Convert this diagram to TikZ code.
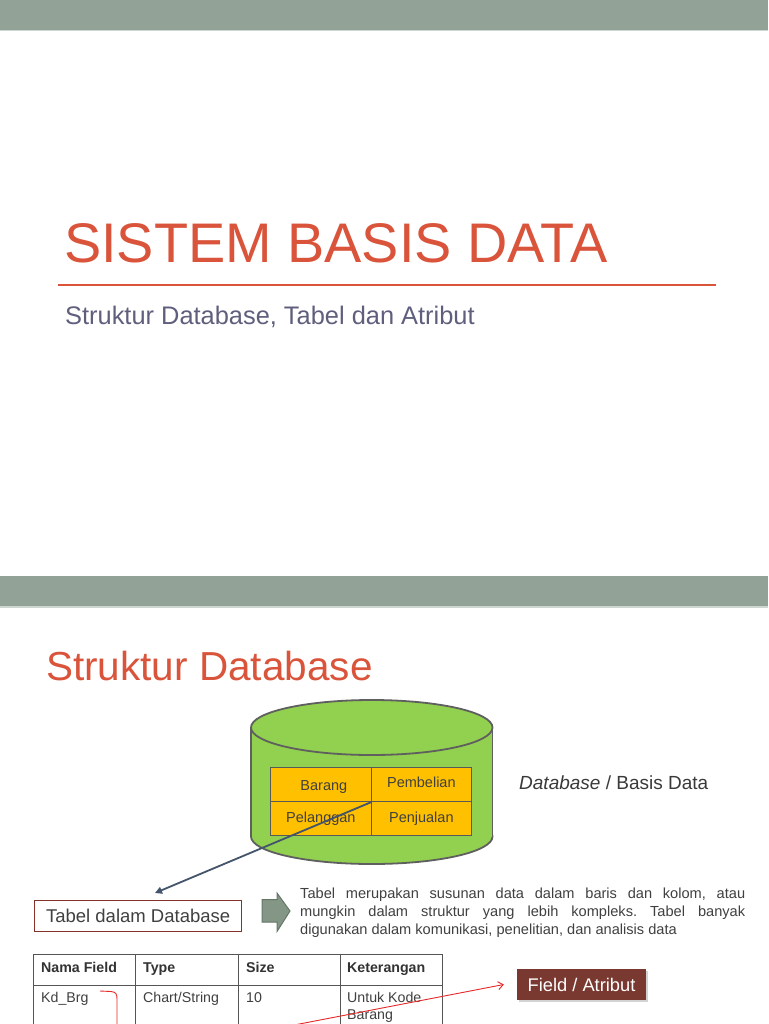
\documentclass[tikz,border=0pt]{standalone}
\usepackage{fontspec}
\setmainfont{Liberation Sans}
\usetikzlibrary{shadows,arrows.meta}
\definecolor{band}{RGB}{146,162,151}
\definecolor{bandline}{RGB}{205,214,208}
\definecolor{titlered}{RGB}{217,84,58}
\definecolor{subgray}{RGB}{95,95,125}
\definecolor{cylgreen}{RGB}{146,208,80}
\definecolor{cylborder}{RGB}{95,95,95}
\definecolor{taborange}{RGB}{255,192,0}
\definecolor{tabborder}{RGB}{89,89,89}
\definecolor{darkarrow}{RGB}{68,84,106}
\definecolor{textgray}{RGB}{64,64,64}
\definecolor{boxborder}{RGB}{135,50,40}
\definecolor{blockfill}{RGB}{132,150,134}
\definecolor{blockborder}{RGB}{100,118,102}
\definecolor{fieldfill}{RGB}{121,57,48}
\definecolor{redline}{RGB}{230,40,40}
\definecolor{gridgray}{RGB}{85,85,85}
\tikzset{
  fsz/.style={font=\fontsize{#1}{#1}\selectfont},
  txt/.style={inner sep=0pt, text=textgray},
  tcell/.style={draw=tabborder, line width=1.2pt, fill=taborange, inner sep=0pt,
    text height=10.5pt, text depth=3pt,
    minimum width=100.5pt, minimum height=34pt, text=textgray, fsz=14.5},
  gcell/.style={draw=gridgray, line width=1.2pt, inner sep=0pt, anchor=north west},
  cyl/.style={draw=cylborder, line width=1.8pt, fill=cylgreen},
}
\begin{document}
\frenchspacing
\begin{tikzpicture}[x=1pt,y=-1pt]
\clip (0,0) rectangle (768,1024);
\fill[white] (0,0) rectangle (768,1024);
% bands
\fill[band] (0,0) rectangle (768,30);
\fill[bandline] (0,30) rectangle (768,31.5);
\fill[band] (0,576) rectangle (768,606);
\fill[bandline] (0,606) rectangle (768,607.5);
% title slide
\node[inner sep=0pt, anchor=base west, text=titlered, fsz=55.8] (title) at (64,262) {SISTEM BASIS DATA};
\draw[titlered, line width=1.3pt] (58,285) -- (716,285);
\node[inner sep=0pt, anchor=base west, text=subgray, fsz=25.4] (subtitle) at (65,324) {Struktur Database, Tabel dan Atribut};
% second slide
\node[inner sep=0pt, anchor=base west, text=titlered, fsz=40.5] (heading) at (46,680) {Struktur Database};
% cylinder
\filldraw[cyl] (371.75,836.5) ellipse[x radius=120.75, y radius=27.5];
\fill[cylgreen] (251,727.5) rectangle (492.5,836.5);
\draw[cylborder, line width=1.8pt] (251,727.5) -- (251,836.5);
\draw[cylborder, line width=1.8pt] (492.5,727.5) -- (492.5,836.5);
\filldraw[cyl] (371.75,727.5) ellipse[x radius=120.75, y radius=27.5];
\coordinate (cylinder) at (371.75,780);
% tables inside
\node[tcell, anchor=north west] (barang) at (270,766.7) {\hspace*{6pt}\raisebox{-2.5pt}[0pt][0pt]{Barang}};
\node[tcell, anchor=north west] (pembelian) at (370.5,766.7) {\raisebox{1pt}[0pt][0pt]{Pembelian}};
\node[tcell, anchor=north west] (pelanggan) at (270,800.7) {Pelanggan};
\node[tcell, anchor=north west] (penjualan) at (370.5,800.7) {Penjualan};
\node[txt, anchor=base west, text=textgray!90!black, fsz=19] (dblabel) at (519,789) {\textit{Database} / Basis Data};
% table label box
\node[draw=boxborder, line width=1.3pt, minimum width=207pt, minimum height=31pt, inner sep=0pt,
  anchor=north west, text=textgray, fsz=18.5] (tabelbox) at (34,900) {Tabel dalam Database};
\draw[darkarrow, line width=1.8pt, -{Triangle[length=7pt,width=7pt]}] (barang.south east) -- (155,893);
% block arrow
\filldraw[fill=blockfill, draw=blockborder, line width=1pt] (262,899.5) -- (277,899.5) -- (277,893) -- (290,911) -- (277,931.5) -- (277,922) -- (262,922) -- cycle;
\coordinate (blockarrow) at (276,911);
\node[txt, anchor=north west, text width=445pt, align=justify, font=\fontsize{14.6}{18.3}\selectfont] (para) at (300,887.3)
 {Tabel merupakan susunan data dalam baris dan kolom, atau\linebreak mungkin dalam struktur yang lebih kompleks. Tabel banyak\linebreak digunakan dalam komunikasi, penelitian, dan analisis data};
% attribute table
\node[gcell, minimum width=102pt, minimum height=31pt] (h1) at (33,954) {};
\node[gcell, minimum width=103pt, minimum height=31pt] (h2) at (135,954) {};
\node[gcell, minimum width=102pt, minimum height=31pt] (h3) at (238,954) {};
\node[gcell, minimum width=102pt, minimum height=31pt] (h4) at (340,954) {};
\node[gcell, minimum width=102pt, minimum height=60pt] (r1) at (33,985) {};
\node[gcell, minimum width=103pt, minimum height=60pt] (r2) at (135,985) {};
\node[gcell, minimum width=102pt, minimum height=60pt] (r3) at (238,985) {};
\node[gcell, minimum width=102pt, minimum height=60pt] (r4) at (340,985) {};
\node[txt, anchor=base west, fsz=14.2, text=black!80] (t1) at (41,972) {\bfseries Nama Field};
\node[txt, anchor=base west, fsz=14.2, text=black!80] (t2) at (143,972) {\bfseries Type};
\node[txt, anchor=base west, fsz=14.2, text=black!80] (t3) at (246,972) {\bfseries Size};
\node[txt, anchor=base west, fsz=14.2, text=black!80] (t4) at (347,972) {\bfseries Keterangan};
\node[txt, anchor=base west, fsz=14.2] (c1) at (41,1002) {Kd\_Brg};
\node[txt, anchor=base west, fsz=14.2] (c2) at (143,1002) {Chart/String};
\node[txt, anchor=base west, fsz=14.2] (c3) at (246,1002) {10};
\node[txt, anchor=base west, fsz=14.2] (c4) at (347,1002) {Untuk Kode};
\node[txt, anchor=base west, fsz=14.2] (c4b) at (347,1019) {Barang};
% field box
\node[fill=fieldfill, text=white, minimum width=129pt, minimum height=31pt, inner sep=0pt,
  drop shadow={shadow xshift=2pt, shadow yshift=-2pt, opacity=0.35}, fsz=18.3] (field) at (581.5,984.5) {Field / Atribut};
% red connectors
\coordinate (redstart) at (289,1026);
\draw[redline, line width=0.9pt, -{Straight Barb[length=5pt,width=8pt]}] (redstart) -- ([xshift=-13pt]field.west);
\coordinate (brk) at (100,991);
\coordinate (brkend) at (117,1030);
\draw[redline, line width=0.9pt] (brk) -- (111,991.5) .. controls (116,992) and (117,994) .. (117,999) -- (brkend);
\end{tikzpicture}
\end{document}
